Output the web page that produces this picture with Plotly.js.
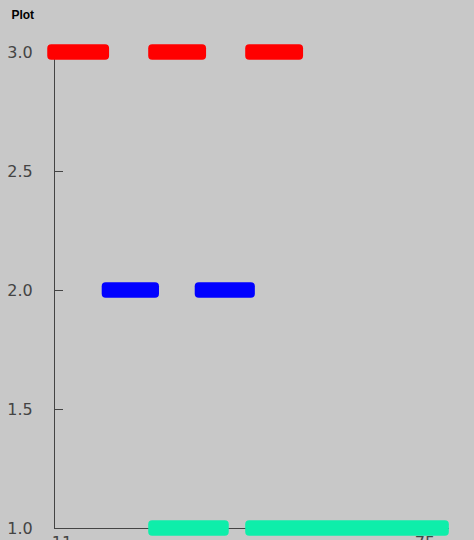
<!DOCTYPE html>
<html>
<head>
<meta charset="utf-8">
<script src="https://cdn.plot.ly/plotly-3.0.1.min.js"></script>
<style>html,body{margin:0;padding:0;background:#c8c8c8;}#chart{width:474px;height:540px;}</style>
</head>
<body>
<div id="chart"></div>
<script>
// Segment data: each row is a level (y), each segment [start, end] on x
var levels = [3, 2, 1];
var colors = ['#ff0000', '#0000ff', '#0eeeaa'];
var redStarts = [8.4, 26.2, 43.3];
var redEnds   = [19.3, 36.4, 53.5];
var blueStarts = [18.0, 34.4];
var blueEnds   = [28.1, 45.0];
var greenStarts = [26.2, 43.3];
var greenEnds   = [40.4, 79.2];
var xTickVals = [11, 75];
var xTickText = ['11', '75'];
var yTickVals = [1, 1.5, 2, 2.5, 3];

// axis frame (data space) and a padded data area so bar ends are not cut
var xFrame = [9.766, 79.23];
var yFrame = [1, 3];
var xPad = [8.0, 80.0];
var yPad = [0.95, 3.05];

var W = 474, H = 540;
// pixel placement of the frame
var fx0 = 55, fx1 = 449, fy0 = 52, fy1 = 528;
var pxPerX = (fx1 - fx0) / (xFrame[1] - xFrame[0]);
var pxPerY = (fy1 - fy0) / (yFrame[1] - yFrame[0]);
function xpx(v) { return fx0 + (v - xFrame[0]) * pxPerX; }
function ypx(v) { return fy1 - (v - yFrame[0]) * pxPerY; }

function segTrace(starts, ends, level, color) {
  return {
    type: 'bar',
    orientation: 'h',
    base: starts,
    x: ends.map(function (e, i) { return e - starts[i]; }),
    y: starts.map(function () { return level; }),
    width: 0.066,
    xaxis: 'x2', yaxis: 'y2',
    marker: {color: color, line: {width: 0}},
    cliponaxis: false,
    hoverinfo: 'skip',
    showlegend: false
  };
}

var data = [
  {type: 'scatter', x: [], y: [], xaxis: 'x', yaxis: 'y', showlegend: false},
  segTrace(redStarts, redEnds, levels[0], colors[0]),
  segTrace(blueStarts, blueEnds, levels[1], colors[1]),
  segTrace(greenStarts, greenEnds, levels[2], colors[2])
];

var tickFont = {family: 'DejaVu Sans, Verdana, sans-serif', size: 16, color: '#444'};

var layout = {
  width: W,
  height: H,
  paper_bgcolor: '#c8c8c8',
  plot_bgcolor: 'rgba(0,0,0,0)',
  margin: {l: 0, r: 0, t: 0, b: 0, pad: 0},
  barmode: 'overlay',
  barcornerradius: 4,
  title: {
    text: '<b>Plot</b>',
    font: {family: 'Liberation Sans, Arial, sans-serif', size: 12, color: '#000'},
    xref: 'container', yref: 'container',
    x: 0.024, xanchor: 'left',
    y: 0.972, yanchor: 'middle'
  },
  xaxis: {
    domain: [fx0 / W, fx1 / W],
    anchor: 'y',
    range: xFrame,
    showgrid: false, zeroline: false,
    showline: true, linecolor: '#444', linewidth: 1,
    ticks: '',
    tickvals: xTickVals, ticktext: xTickText,
    tickfont: tickFont,
    fixedrange: true
  },
  yaxis: {
    domain: [(H - fy1) / H, (H - fy0) / H],
    anchor: 'x',
    range: yFrame,
    showgrid: false, zeroline: false,
    showline: true, linecolor: '#444', linewidth: 1,
    ticks: 'inside', ticklen: 8, tickcolor: '#444', tickwidth: 1,
    tickvals: yTickVals, tickformat: '.1f',
    tickfont: tickFont,
    ticklabelstandoff: 18,
    fixedrange: true
  },
  xaxis2: {
    domain: [xpx(xPad[0]) / W, xpx(xPad[1]) / W],
    anchor: 'y2',
    range: xPad,
    visible: false,
    fixedrange: true
  },
  yaxis2: {
    domain: [(H - ypx(yPad[0])) / H, (H - ypx(yPad[1])) / H],
    anchor: 'x2',
    range: yPad,
    visible: false,
    fixedrange: true
  }
};

Plotly.newPlot('chart', data, layout, {displayModeBar: false, staticPlot: true});
</script>
</body>
</html>
